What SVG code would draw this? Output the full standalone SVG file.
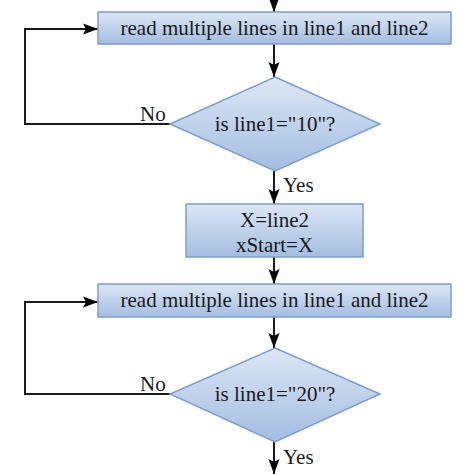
<svg xmlns="http://www.w3.org/2000/svg" width="474" height="474" viewBox="0 0 474 474">
<defs>
<linearGradient id="g" x1="0" y1="0" x2="0" y2="1">
<stop offset="0" stop-color="#dce7f5"/>
<stop offset="1" stop-color="#a3bde0"/>
</linearGradient>
<marker id="ah" markerWidth="15" markerHeight="12" refX="15" refY="6" orient="auto" markerUnits="userSpaceOnUse">
<path d="M0,0.5 L15,6 L0,11.5 L3,6 Z" fill="#000"/>
</marker>
</defs>
<style>
.n{fill:url(#g);stroke:#7d9dcb;stroke-width:1.5}
.t{font-family:"Liberation Serif","Times New Roman",serif;font-size:21px;fill:#1a1a1a;text-anchor:middle}
.l{font-family:"Liberation Serif","Times New Roman",serif;font-size:21px;fill:#1a1a1a}
.c{fill:none;stroke:#1a1a1a;stroke-width:2;marker-end:url(#ah)}
</style>
<g id="connectors">
<path class="c" d="M274,0 V12"/>
<path class="c" d="M274,44 V77"/>
<path class="c" d="M170,124 H25 V29 H98"/>
<path class="c" d="M274,171 V204"/>
<path class="c" d="M274,257 V284"/>
<path class="c" d="M274,317 V348"/>
<path class="c" d="M170,394 H25 V302 H98"/>
<path class="c" d="M274,442 V474"/>
</g>
<g id="read1">
<rect class="n" x="98" y="12" width="353" height="32"/>
<text class="t" x="274.5" y="35">read multiple lines in line1 and line2</text>
</g>
<g id="dec1">
<polygon class="n" points="275,77 380,124 275,171 170,124"/>
<text class="t" x="275" y="131">is line1="10"?</text>
<text class="l" x="140" y="121">No</text>
<text class="l" x="283" y="192">Yes</text>
</g>
<g id="assign">
<rect class="n" x="186" y="204" width="177" height="53"/>
<text class="t" x="274.5" y="227">X=line2</text>
<text class="t" x="274.5" y="252">xStart=X</text>
</g>
<g id="read2">
<rect class="n" x="98" y="284" width="353" height="33"/>
<text class="t" x="274.5" y="307">read multiple lines in line1 and line2</text>
</g>
<g id="dec2">
<polygon class="n" points="275,348 380,394 275,442 170,394"/>
<text class="t" x="275" y="401">is line1="20"?</text>
<text class="l" x="140" y="391">No</text>
<text class="l" x="283" y="464">Yes</text>
</g>
</svg>
